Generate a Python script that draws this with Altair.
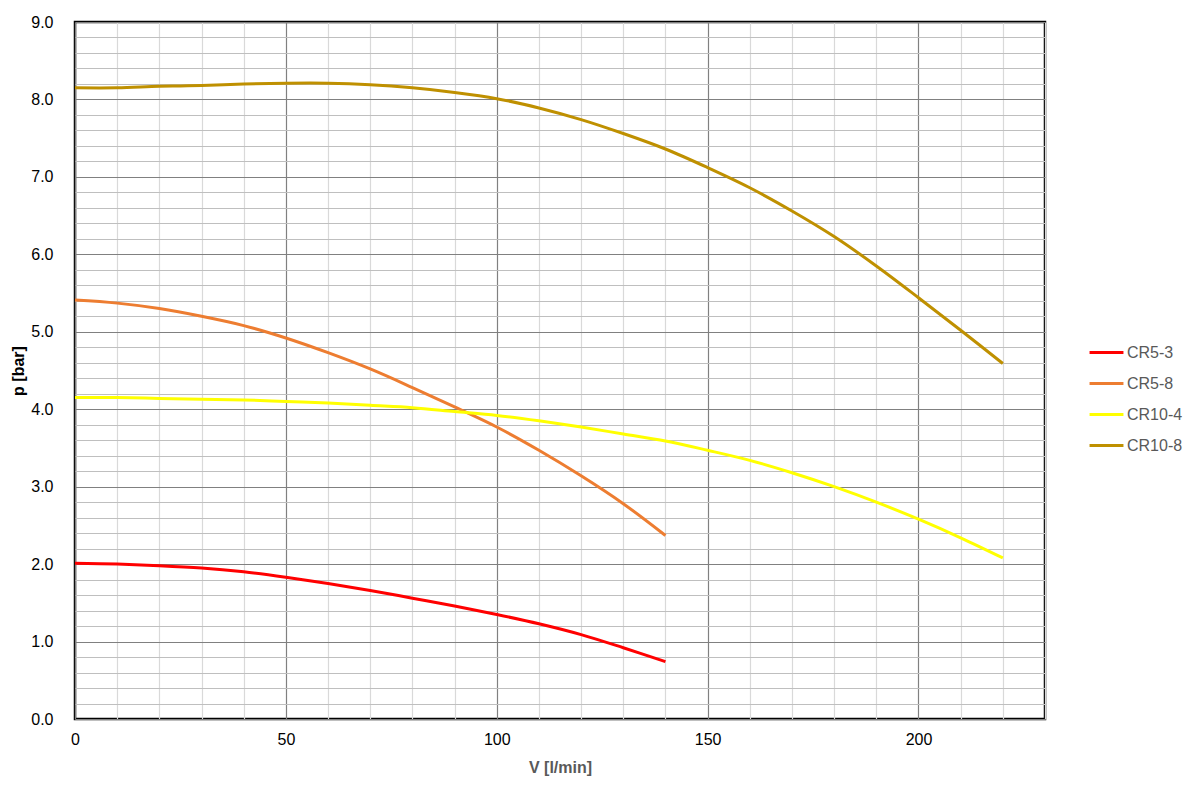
import altair as alt
import pandas as pd

flow = [0, 10, 20, 30, 40, 50, 60, 70, 80, 90, 100, 110, 120, 130, 140,
        150, 160, 170, 180, 190, 200, 210, 220]

cr5_3 = [2.01, 2.00, 1.98, 1.95, 1.90, 1.83, 1.75, 1.66, 1.56, 1.46, 1.35, 1.23, 1.09, 0.92, 0.74]
cr5_8 = [5.41, 5.37, 5.30, 5.20, 5.08, 4.92, 4.73, 4.52, 4.28, 4.03, 3.77, 3.47, 3.14, 2.78, 2.37]
cr10_4 = [4.15, 4.15, 4.14, 4.13, 4.12, 4.10, 4.08, 4.05, 4.02, 3.97, 3.92, 3.85, 3.77, 3.68, 3.59,
          3.47, 3.34, 3.18, 3.00, 2.80, 2.58, 2.34, 2.08]
cr10_8 = [8.15, 8.15, 8.17, 8.18, 8.20, 8.21, 8.21, 8.19, 8.15, 8.09, 8.01, 7.89, 7.74, 7.56, 7.36,
          7.12, 6.86, 6.56, 6.23, 5.85, 5.44, 5.02, 4.59]

series_names = ["CR5-3", "CR5-8", "CR10-4", "CR10-8"]
series_colors = ["#ff0000", "#ed7d31", "#ffff00", "#bf9000"]

x_ticks = [i * 10 for i in range(0, 24)]
y_ticks = [round(i * 0.2, 1) for i in range(0, 46)]

rows = []
for name, vals in zip(series_names, [cr5_3, cr5_8, cr10_4, cr10_8]):
    for v, p in zip(flow, vals):
        rows.append({"V": v, "p": p, "series": name})
df = pd.DataFrame(rows)

chart = alt.Chart(df).mark_line(interpolate="catmull-rom", strokeWidth=3).encode(
    x=alt.X("V:Q", scale=alt.Scale(domain=[0, 230], nice=False, zero=True),
            axis=alt.Axis(
                title="V [l/min]", values=x_ticks,
                labelExpr="datum.value % 50 === 0 ? format(datum.value, 'd') : ''",
                labelOverlap=False, labelFlush=False, ticks=False, domain=False,
                labelFontSize=16, labelColor="#000000", labelFont="Liberation Sans",
                labelPadding=12,
                titleFontSize=16, titleFont="Liberation Sans", titleFontWeight="bold",
                titleColor="#595959", titlePadding=12,
                gridColor={"condition": {"test": "datum.value % 50 === 0", "value": "#808080"},
                           "value": "#d9d9d9"},
                gridWidth=1.2)),
    y=alt.Y("p:Q", scale=alt.Scale(domain=[0, 9], nice=False),
            axis=alt.Axis(
                title="p [bar]", values=y_ticks,
                labelExpr="abs(datum.value - round(datum.value)) < 0.001 ? format(datum.value, '.1f') : ''",
                labelOverlap=False, ticks=False, domain=False,
                labelFontSize=16, labelColor="#000000", labelFont="Liberation Sans",
                labelPadding=22,
                titleFontSize=16, titleFont="Liberation Sans", titleFontWeight="bold",
                titleColor="#000000", titlePadding=4,
                gridColor={"condition": {"test": "abs(datum.value - round(datum.value)) < 0.001", "value": "#808080"},
                           "value": "#bfbfbf"},
                gridWidth=1.2)),
    color=alt.Color("series:N", sort=series_names,
                    scale=alt.Scale(domain=series_names, range=series_colors),
                    legend=alt.Legend(
                        title=None, orient="none", legendX=1013, legendY=312,
                        symbolType="stroke", symbolSize=1150, symbolStrokeWidth=3,
                        labelFontSize=16, labelFont="Liberation Sans", labelColor="#595959",
                        labelOffset=2, rowPadding=4, padding=0)),
).properties(
    width=970, height=697,
    background="#ffffff",
    autosize=alt.AutoSizeParams(type="none"),
    padding={"left": 75, "top": 22, "right": 155, "bottom": 81},
).configure_view(
    stroke="#000000", strokeWidth=2.5
)

chart.save("out.html", embed_options={"renderer": "svg", "actions": False})
